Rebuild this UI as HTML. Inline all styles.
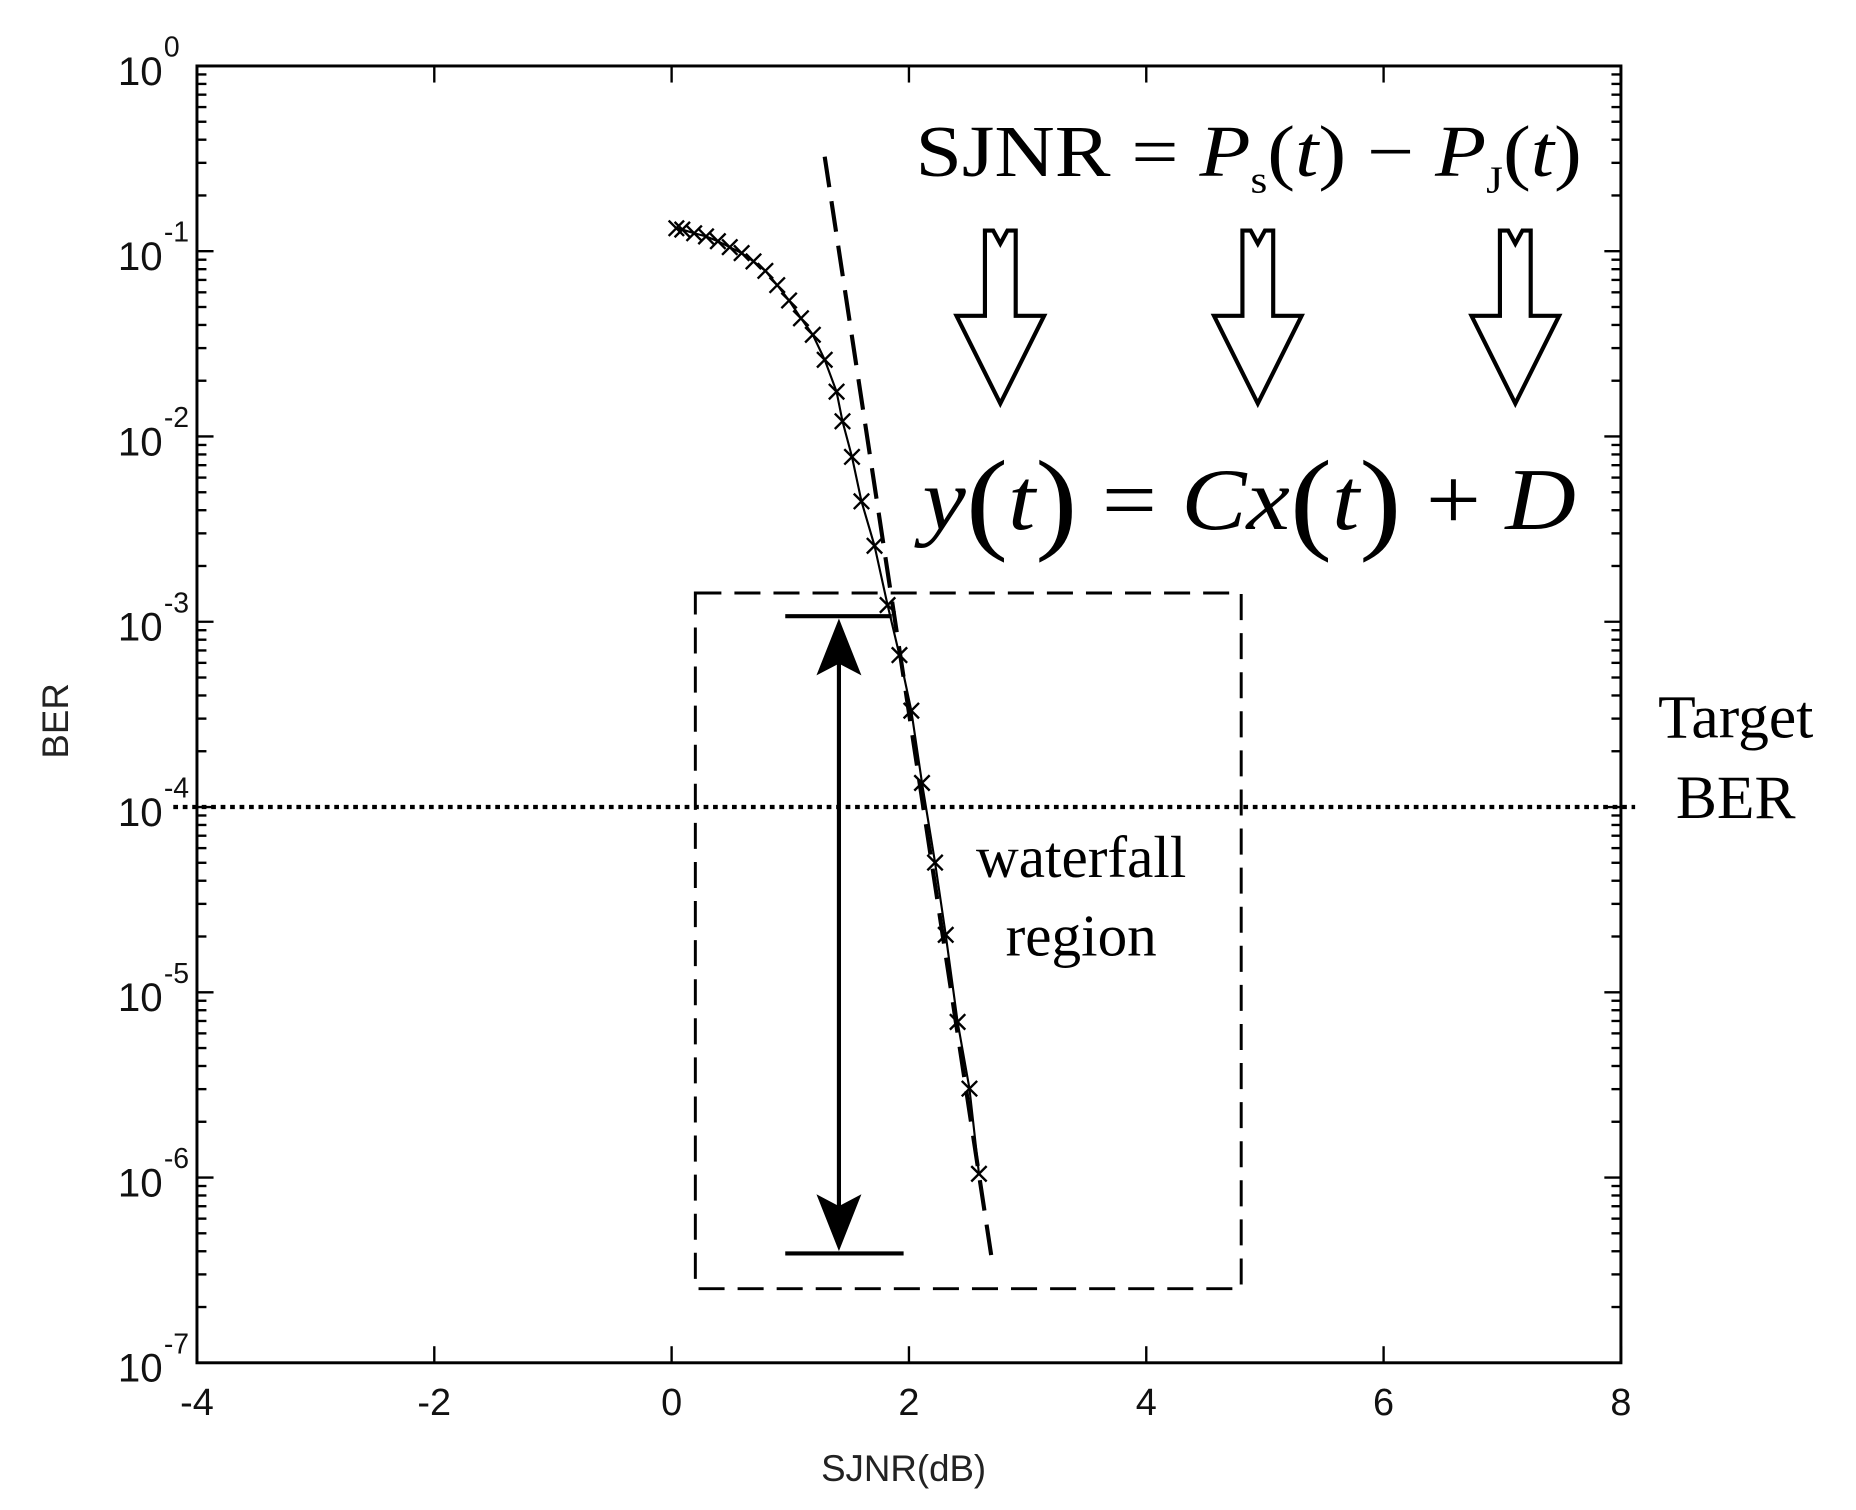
<!DOCTYPE html>
<html><head><meta charset="utf-8"><style>
html,body{margin:0;padding:0;background:#fff;}
svg{display:block;}
</style></head><body>
<svg id="chart" width="1856" height="1510" viewBox="-1.4 -0.7 1568 1275" preserveAspectRatio="none" xmlns="http://www.w3.org/2000/svg">
<g id="axes"></g>
<g id="marks"></g>
<g id="annot">
  <text x="1465" y="622" font-family="Liberation Serif, serif" font-size="52" text-anchor="middle">Target</text>
  <text x="1465" y="690" font-family="Liberation Serif, serif" font-size="52" text-anchor="middle">BER</text>
  <text x="912" y="740" font-family="Liberation Serif, serif" font-size="50" text-anchor="middle">waterfall</text>
  <text x="912" y="806" font-family="Liberation Serif, serif" font-size="50" text-anchor="middle">region</text>
  <text x="772" y="148" font-family="Liberation Serif, serif" font-size="62" textLength="563" lengthAdjust="spacingAndGlyphs">SJNR = <tspan font-style="italic">P</tspan><tspan font-size="32" dy="14">s</tspan><tspan dy="-14">(</tspan><tspan font-style="italic">t</tspan>) − <tspan font-style="italic">P</tspan><tspan font-size="32" dy="14">J</tspan><tspan dy="-14">(</tspan><tspan font-style="italic">t</tspan>)</text>
  <text x="778" y="446" font-family="Liberation Serif, serif" font-size="74" font-style="italic" textLength="552" lengthAdjust="spacingAndGlyphs">y<tspan font-style="normal" font-size="96" dy="8">(</tspan><tspan dy="-8">t</tspan><tspan font-style="normal" font-size="96" dy="8">)</tspan><tspan font-style="normal" dy="-8"> = </tspan>Cx<tspan font-style="normal" font-size="96" dy="8">(</tspan><tspan dy="-8">t</tspan><tspan font-style="normal" font-size="96" dy="8">)</tspan><tspan font-style="normal" dy="-8"> + </tspan>D</text>
</g>
<text x="762" y="1250" font-family="Liberation Sans, sans-serif" font-size="31" text-anchor="middle" fill="#222">SJNR(dB)</text>
<text x="0" y="0" transform="translate(56,608) rotate(-90)" font-family="Liberation Sans, sans-serif" font-size="31" text-anchor="middle" fill="#222">BER</text>
</svg>
<script>
const xTicks = [-4, -2, 0, 2, 4, 6, 8];
const yDecades = [0, -1, -2, -3, -4, -5, -6, -7];
const berX = [0.04,0.09,0.19,0.29,0.39,0.49,0.59,0.69,0.79,0.89,0.99,1.09,1.19,1.29,1.39,1.44,1.52,1.60,1.71,1.82,1.92,2.02,2.11,2.22,2.31,2.41,2.51,2.59];
const berLog = [-0.876,-0.883,-0.903,-0.92,-0.946,-0.978,-1.01,-1.055,-1.106,-1.183,-1.266,-1.362,-1.451,-1.586,-1.758,-1.918,-2.11,-2.35,-2.59,-2.91,-3.18,-3.48,-3.87,-4.3,-4.69,-5.16,-5.52,-5.98];
const fitX = [1.29, 2.71];
const fitLog = [-0.49, -6.49];
const targetLog = [-4];
const boxX = [0.2, 4.8];
const boxLog = [-2.845, -6.6];
const spanX = [1.41];
const spanLog = [-2.97, -6.41];
const arrowX = [2.77, 4.94, 7.11];

const L=165,R=1368,T=55,B=1150;
const sx = v => L + (v + 4) / 12 * (R - L);
const sy = lg => T + (-lg) / 7 * (B - T);
const NS='http://www.w3.org/2000/svg';
function mk(tag, attrs, parent){const e=document.createElementNS(NS,tag);for(const k in attrs)e.setAttribute(k,attrs[k]);parent.appendChild(e);return e;}
const axes=document.getElementById('axes'), marks=document.getElementById('marks');

const frame=mk('rect',{x:L,y:T,width:R-L,height:B-T,fill:'none',stroke:'#000','stroke-width':2.5},axes);


xTicks.forEach(v=>{
  const x=sx(v);
  const t1=mk('line',{x1:x,y1:B,x2:x,y2:B-14,stroke:'#000','stroke-width':2},axes);
  
  
  const t2=mk('line',{x1:x,y1:T,x2:x,y2:T+14,stroke:'#000','stroke-width':2},axes);
  
  
  const lb=mk('text',{x:x,y:B+44,'font-family':'Liberation Sans, sans-serif','font-size':32,'text-anchor':'middle',fill:'#111'},axes);
  lb.textContent=String(v);
  
  
});
yDecades.forEach(d=>{
  const y=sy(d);
  const t1=mk('line',{x1:L,y1:y,x2:L+14,y2:y,stroke:'#000','stroke-width':2},axes);
  
  
  const t2=mk('line',{x1:R,y1:y,x2:R-14,y2:y,stroke:'#000','stroke-width':2},axes);
  
  
  const lb=mk('text',{x:136,y:y+16,'font-family':'Liberation Sans, sans-serif','font-size':34,'text-anchor':'end',fill:'#111'},axes);
  lb.textContent='10';
  
  
  const ex=mk('text',{x:137,y:y-8,'font-family':'Liberation Sans, sans-serif','font-size':24,fill:'#111'},axes);
  ex.textContent=d===0?'0':String(d);
  
  
  if(d>-7){for(let m=2;m<=9;m++){
    const yy=sy(d-1+Math.log10(m));
    const a=mk('line',{x1:L,y1:yy,x2:L+8,y2:yy,stroke:'#000','stroke-width':2},axes);
    
    
    const b=mk('line',{x1:R,y1:yy,x2:R-8,y2:yy,stroke:'#000','stroke-width':2},axes);
    
    
  }}
});

const tl=mk('line',{x1:145,y1:sy(targetLog[0]),x2:1380,y2:sy(targetLog[0]),stroke:'#000','stroke-width':3.5,'stroke-dasharray':'4 4'},marks);



const bx=mk('rect',{x:sx(boxX[0]),y:sy(boxLog[0]),width:sx(boxX[1])-sx(boxX[0]),height:sy(boxLog[1])-sy(boxLog[0]),fill:'none',stroke:'#000','stroke-width':2.5,'stroke-dasharray':'22 11'},marks);



const fl=mk('line',{x1:sx(fitX[0]),y1:sy(fitLog[0]),x2:sx(fitX[1]),y2:sy(fitLog[1]),stroke:'#000','stroke-width':3.5,'stroke-dasharray':'26 12'},marks);



const pts=berX.map((v,i)=>sx(v)+','+sy(berLog[i])).join(' ');
const cl=mk('polyline',{points:pts,fill:'none',stroke:'#000','stroke-width':1.8},marks);


berX.forEach((v,i)=>{
  const x=sx(v),y=sy(berLog[i]),s=6.5;
  const p=mk('path',{d:`M${x-s},${y-s}L${x+s},${y+s}M${x-s},${y+s}L${x+s},${y-s}`,stroke:'#000','stroke-width':2},marks);
  
  
});

const ax=sx(spanX[0]), ay1=sy(spanLog[0]), ay2=sy(spanLog[1]);
const c1=mk('line',{x1:662,y1:ay1,x2:752,y2:ay1,stroke:'#000','stroke-width':3.5},marks);


const c2=mk('line',{x1:662,y1:ay2,x2:762,y2:ay2,stroke:'#000','stroke-width':3.5},marks);


const sh=mk('line',{x1:ax,y1:ay1+30,x2:ax,y2:ay2-30,stroke:'#000','stroke-width':3.5},marks);


const h1=mk('path',{d:`M${ax},${ay1+2}L${ax-19},${ay1+50}L${ax},${ay1+40}L${ax+19},${ay1+50}Z`,fill:'#000'},marks);


const h2=mk('path',{d:`M${ax},${ay2-2}L${ax-19},${ay2-50}L${ax},${ay2-40}L${ax+19},${ay2-50}Z`,fill:'#000'},marks);



arrowX.forEach(v=>{
  const c=sx(v);
  const d=`M${c-13},194 L${c-6},194 L${c},205 L${c+6},194 L${c+13},194 L${c+13},266 L${c+37},266 L${c},340 L${c-37},266 L${c-13},266 Z`;
  const p=mk('path',{d:d,fill:'#fff',stroke:'#000','stroke-width':3.5,'stroke-linejoin':'miter'},marks);
  
  
});
</script>
</body></html>
